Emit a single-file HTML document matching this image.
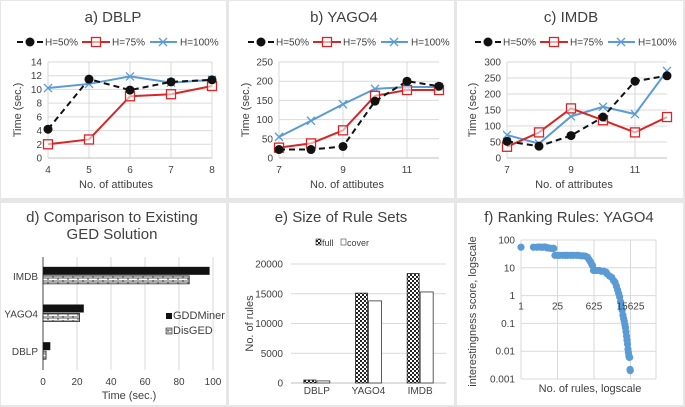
<!DOCTYPE html>
<html><head><meta charset="utf-8"><style>
body{margin:0;width:685px;height:407px;background:#e6e6e6;font-family:"Liberation Sans",sans-serif;overflow:hidden}
svg{display:block}
text{font-family:"Liberation Sans",sans-serif;fill:#404040}
</style></head><body>
<svg id="c" width="685" height="407">
<defs>
<pattern id="brick" width="10" height="4" patternUnits="userSpaceOnUse"><rect width="10" height="4" fill="#fff"/><path d="M0 0H10M0 2H10M3 0V2M8 2V4" stroke="#222" stroke-width="0.8"/></pattern>
<pattern id="check" width="4" height="4" patternUnits="userSpaceOnUse"><rect width="4" height="4" fill="#fff"/><rect width="2" height="2" fill="#222"/><rect x="2" y="2" width="2" height="2" fill="#222"/></pattern>
</defs>
<rect x="1" y="1" width="225" height="197" fill="#fff"/>
<rect x="229" y="1" width="225" height="197" fill="#fff"/>
<rect x="457" y="1" width="226" height="197" fill="#fff"/>
<rect x="1" y="203" width="225" height="202" fill="#fff"/>
<rect x="229" y="203" width="225" height="202" fill="#fff"/>
<rect x="457" y="203" width="226" height="202" fill="#fff"/>
</svg>
<script>
const NS="http://www.w3.org/2000/svg";
const svg=document.getElementById('c');
function el(t,a,p){const e=document.createElementNS(NS,t);for(const k in a)e.setAttribute(k,a[k]);(p||svg).appendChild(e);return e;}
function txt(x,y,s,size,anchor,extra){const e=el('text',Object.assign({x:x,y:y,'font-size':size,'text-anchor':anchor||'middle'},extra||{}));e.textContent=s;return e;}

// ---- data: panels a-c ----
const aX=[4,5,6,7,8];
const aH50=[4.2,11.5,9.9,11.1,11.4];
const aH75=[2.0,2.7,9.0,9.3,10.5];
const aH100=[10.2,10.8,11.9,11.0,11.4];
const aYTicks=[0,2,4,6,8,10,12,14];
const aXTicks=[4,5,6,7,8];
const bX=[7,8,9,10,11,12];
const bH50=[22,22,30,148,200,187];
const bH75=[27,38,72,162,177,177];
const bH100=[55,97,140,180,185,185];
const bYTicks=[0,50,100,150,200,250];
const bXTicks=[7,9,11];
const cX=[7,8,9,10,11,12];
const cH50=[52,37,70,128,240,257];
const cH75=[35,80,155,118,80,128];
const cH100=[72,45,130,160,137,272];
const cYTicks=[0,50,100,150,200,250,300];
const cXTicks=[7,9,11];
// ---- panel d ----
const dCats=['IMDB','YAGO4','DBLP'];
const dGDD=[98,24,4.3];
const dDis=[86,21.5,1.8];
const dXTicks=[0,20,40,60,80,100];
// ---- panel e ----
const eCats=['DBLP','YAGO4','IMDB'];
const eFull=[500,15100,18400];
const eCover=[350,13800,15300];
const eYTicks=[0,5000,10000,15000,20000];
// ---- panel f ----
const fRank=[1,3,4,5,6,7,8,9,10,11,12,14,16,18,20,25,30,40,50,60,80,100,130,160,200,250,300,350,400,450,500,550,600,700,800,1000,1200,1500,1800,2000,2500,3000,3500,4000,4500,5000,5500,6000,6500,7000,7500,8000,8500,9000,9500,10000,10500,11000,11500,12000,12500,13000,13500,14000,14500,15000,15300];
const fScore=[55,55,55,56,55,55,56,55,52,52,51,50,50,50,28,28,28,28,28,28,28,28,28,28,27,27,26,24,20,17,14,12,8,8,8,8,7.5,7.5,7,6,5,4.5,3.5,3,2.2,1.6,1.2,0.9,0.6,0.4,0.3,0.2,0.15,0.12,0.09,0.07,0.05,0.035,0.025,0.018,0.012,0.009,0.007,0.006,0.006,0.0022,0.002];
const fYTicks=[100,10,1,0.1,0.01,0.001];
const fXTicks=[1,25,625,15625];

function lineChart(o){
  const g=el('g',{});
  const sx=v=>o.x0+(v-o.xmin)/(o.xmax-o.xmin)*(o.x1-o.x0);
  const sy=v=>o.y0-(v/o.ymax)*(o.y0-o.y1);
  txt(o.cx,22,o.title,15,'middle',{fill:'#333'});
  o.yt.forEach(t=>{el('line',{x1:o.x0,x2:o.x1,y1:sy(t),y2:sy(t),stroke:'#d9d9d9'},g);const e=txt(o.x0-6,sy(t)+3.5,String(t),10,'end');});
  o.xt.forEach(t=>{el('line',{x1:sx(t),x2:sx(t),y1:o.y1,y2:o.y0,stroke:'#d9d9d9'},g);const e=txt(sx(t),o.y0+15,String(t),10);});
  el('line',{x1:o.x0,x2:o.x1,y1:o.y0,y2:o.y0,stroke:'#bfbfbf'},g);
  const xt=txt(o.cx+3,o.y0+30,o.xtitle,11);
  const yt=txt(0,0,'Time (sec.)',11,'middle',{transform:`translate(${o.ytx},${(o.y0+o.y1)/2}) rotate(-90)`});
  const ser=[{d:o.s3,c:'#5b9bd5',m:'x',dash:null,n:'series-h100'},{d:o.s2,c:'#d62728',m:'sq',dash:null,n:'series-h75'},{d:o.s1,c:'#111',m:'dot',dash:'6,4',n:'series-h50'}];
  ser.forEach(s=>{
    const pts=s.d.map((v,i)=>sx(o.xs[i])+','+sy(v)).join(' ');
    const pl=el('polyline',{points:pts,fill:'none',stroke:s.c,'stroke-width':2,'stroke-dasharray':s.dash||'none'},g);
    
    
    s.d.forEach((v,i)=>marker(g,sx(o.xs[i]),sy(v),s.m,s.c));
  });
  const ly=o.ly, lx=o.cx-96;
  el('line',{x1:lx,x2:lx+26,y1:ly,y2:ly,stroke:'#111','stroke-width':2,'stroke-dasharray':'6,4'},g);marker(g,lx+13,ly,'dot','#111');
  txt(lx+28,ly+3.5,'H=50%',10,'start');
  el('line',{x1:lx+65,x2:lx+93,y1:ly,y2:ly,stroke:'#d62728','stroke-width':2},g);marker(g,lx+79,ly,'sq','#d62728');
  txt(lx+95,ly+3.5,'H=75%',10,'start');
  el('line',{x1:lx+133,x2:lx+160,y1:ly,y2:ly,stroke:'#5b9bd5','stroke-width':2},g);marker(g,lx+146,ly,'x','#5b9bd5');
  txt(lx+163,ly+3.5,'H=100%',10,'start');
}
function marker(g,x,y,m,c){
  let e;
  if(m==='dot')e=el('circle',{cx:x,cy:y,r:4.5,fill:'#111'},g);
  else if(m==='sq')e=el('rect',{x:x-4.5,y:y-4.5,width:9,height:9,fill:'#fff','fill-opacity':0.6,stroke:c,'stroke-width':1.3},g);
  else e=el('path',{d:`M${x-4} ${y-4}L${x+4} ${y+4}M${x-4} ${y+4}L${x+4} ${y-4}`,stroke:c,'stroke-width':1.3},g);
  
  
}
lineChart({name:'chart-a',title:'a) DBLP',cx:113,x0:48,x1:212,xmin:4,xmax:8,y0:158,y1:62,ymax:14,yt:aYTicks,xt:aXTicks,xs:aX,s1:aH50,s2:aH75,s3:aH100,xtitle:'No. of attibutes',ytx:21,ly:42});
lineChart({name:'chart-b',title:'b) YAGO4',cx:344,x0:279,x1:439,xmin:7,xmax:12,y0:158,y1:62,ymax:250,yt:bYTicks,xt:bXTicks,xs:bX,s1:bH50,s2:bH75,s3:bH100,xtitle:'No. of attibutes',ytx:249,ly:42});
lineChart({name:'chart-c',title:'c) IMDB',cx:571,x0:507,x1:667,xmin:7,xmax:12,y0:158,y1:62,ymax:300,yt:cYTicks,xt:cXTicks,xs:cX,s1:cH50,s2:cH75,s3:cH100,xtitle:'No. of attributes',ytx:476,ly:42});

// ---- panel d ----
(function(){
  const g=el('g',{});
  txt(112,222,'d) Comparison to Existing',15,'middle',{fill:'#333'});
  txt(112,239,'GED Solution',15,'middle',{fill:'#333'});
  const x0=43,x1=213,y0=257,y1=370;
  const sx=v=>x0+v/100*(x1-x0);
  dXTicks.forEach(t=>{el('line',{x1:sx(t),x2:sx(t),y1:y0,y2:y1,stroke:'#d9d9d9'},g);txt(sx(t),y1+15,String(t),10);});
  el('line',{x1:x0,x2:x0,y1:y0,y2:y1,stroke:'#444'},g);
  const band=(y1-y0)/dCats.length;
  dCats.forEach((c,i)=>{
    const cy=y0+band*(i+0.5);
    txt(x0-5,cy+4,c,10,'end');
    const b1=el('rect',{x:x0,y:cy-9,width:sx(dGDD[i])-x0,height:8,fill:'#111'},g);
    
    const b2=el('rect',{x:x0,y:cy,width:sx(dDis[i])-x0,height:8,fill:'url(#brick)',stroke:'#222','stroke-width':0.8},g);
    
  });
  txt(129,399,'Time (sec.)',11);
  el('rect',{x:166,y:313,width:6,height:6,fill:'#111'},g);
  txt(173,319,'GDDMiner',11,'start');
  el('rect',{x:166,y:328,width:6,height:6,fill:'url(#brick)',stroke:'#222','stroke-width':0.6},g);
  txt(173,334,'DisGED',11,'start');
})();

// ---- panel e ----
(function(){
  const g=el('g',{});
  txt(341,222,'e) Size of Rule Sets',15,'middle',{fill:'#333'});
  el('rect',{x:316,y:239,width:5,height:6,fill:'url(#check)',stroke:'#222','stroke-width':0.6},g);
  txt(322,246,'full',9,'start');
  el('rect',{x:341,y:239,width:5,height:6,fill:'#fff',stroke:'#444','stroke-width':0.6},g);
  txt(347,246,'cover',9,'start');
  const x0=291,x1=446,y0=383,y1=264,ymax=20000;
  const sy=v=>y0-v/ymax*(y0-y1);
  eYTicks.forEach(t=>{el('line',{x1:x0,x2:x1,y1:sy(t),y2:sy(t),stroke:'#d9d9d9'},g);txt(x0-8,sy(t)+3.5,String(t),10,'end');});
  el('line',{x1:x0,x2:x1,y1:y0,y2:y0,stroke:'#bfbfbf'},g);
  const band=(x1-x0)/eCats.length;
  eCats.forEach((c,i)=>{
    const cx=x0+band*(i+0.5);
    txt(cx,y0+11,c,10);
    const b1=el('rect',{x:cx-13,y:sy(eFull[i]),width:12,height:y0-sy(eFull[i]),fill:'url(#check)',stroke:'#222','stroke-width':0.8},g);
    
    const b2=el('rect',{x:cx,y:sy(eCover[i]),width:13,height:y0-sy(eCover[i]),fill:'#fff',stroke:'#333','stroke-width':0.8},g);
    
  });
  txt(0,0,'No. of rules',11,'middle',{transform:`translate(253,${(y0+y1)/2}) rotate(-90)`});
})();

// ---- panel f ----
(function(){
  const g=el('g',{});
  txt(569,222,'f) Ranking Rules: YAGO4',15,'middle',{fill:'#333'});
  const x0=521,x1=656,yTop=240,yBot=379;
  const sx=v=>x0+Math.log(v)/Math.log(25)*36.5;
  const sy=v=>yTop+(2-Math.log10(v))*(yBot-yTop)/5;
  fYTicks.forEach(t=>{el('line',{x1:x0,x2:x1,y1:sy(t),y2:sy(t),stroke:'#d9d9d9'},g);txt(x0-6,sy(t)+3.5,String(t),10,'end');});
  fXTicks.forEach(t=>{el('line',{x1:sx(t),x2:sx(t),y1:yTop,y2:yBot,stroke:'#d9d9d9'},g);txt(sx(t),sy(1)+14,String(t),10);});
  el('line',{x1:x1,x2:x1,y1:yTop,y2:yBot,stroke:'#d9d9d9'},g);
  el('line',{x1:x0,x2:x0,y1:yTop,y2:yBot,stroke:'#d9d9d9'},g);
  fRank.forEach((r,i)=>{
    const p=el('circle',{cx:sx(r),cy:sy(fScore[i]),r:3.6,fill:'#5b9bd5'},g);
    
    
  });
  txt(590,392,'No. of rules, logscale',11);
  txt(0,0,'interestingness score, logscale',11,'middle',{transform:`translate(476,${(yTop+yBot)/2+2}) rotate(-90)`});
})();
</script>
</body></html>
